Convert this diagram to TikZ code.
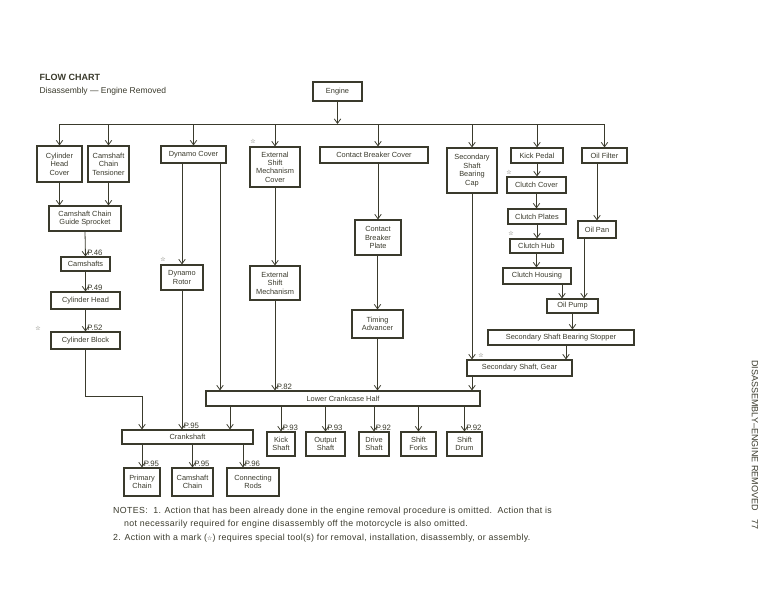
\documentclass[tikz,border=0pt]{standalone}
\usepackage{fontspec}
\setmainfont{Liberation Sans}
\newfontfamily\djv{DejaVu Sans}
\newfontfamily\notefont[LetterSpace=4]{Liberation Sans}
\usetikzlibrary{arrows.meta}
\definecolor{ink}{HTML}{3A3A2C}
\begin{document}
\begin{tikzpicture}[x=1pt,y=-1pt,
  box/.style={draw=ink,line width=1.1pt,inner sep=0pt,align=center,text=ink,font=\fontsize{7.4}{8.4}\selectfont},
  arr/.style={draw=ink,line width=0.8pt,-{Straight Barb[length=4.5pt,width=6.5pt]}},
  ln/.style={draw=ink,line width=0.8pt},
  pg/.style={anchor=south west,xshift=1pt,inner sep=0.5pt,text=ink,font=\fontsize{7.8}{8}\selectfont},
  star/.style={text=ink,font=\djv\fontsize{6}{6}\selectfont,inner sep=0pt}]
\useasboundingbox (0,0) rectangle (768,594);
\newcommand\bx[6]{\node[box,minimum width=#4pt,minimum height=#5pt] (#1) at (#2,#3) {#6};}
\node[anchor=west,text=ink,font=\bfseries\fontsize{9}{10}\selectfont] (t1) at (36,77) {FLOW CHART};
\node[anchor=west,text=ink,font=\fontsize{8.5}{10}\selectfont] (t2) at (36,91) {Disassembly — Engine Removed};
\bx{eng}{337.5}{91.5}{49}{19}{Engine}
\bx{chc}{59.5}{164}{45}{36}{Cylinder\\Head\\Cover}
\bx{cct}{108.5}{164}{41}{36}{Camshaft\\Chain\\Tensioner}
\bx{dyc}{193.5}{154.5}{65}{17}{Dynamo Cover}
\bx{esc}{275}{167}{50}{40}{External\\Shift\\Mechanism\\Cover}
\bx{cbc}{374}{155}{108}{16}{Contact Breaker Cover}
\bx{sbc}{472}{170.5}{50}{45}{Secondary\\Shaft\\Bearing\\Cap}
\bx{kp}{537}{155.5}{52}{15}{Kick Pedal}
\bx{of}{604.5}{155.5}{45}{15}{Oil Filter}
\bx{cgs}{85}{218.5}{72}{25}{Camshaft Chain\\Guide Sprocket}
\bx{cam}{85.5}{264}{49}{14}{Camshafts}
\bx{cyh}{85.5}{300.5}{69}{17}{Cylinder Head}
\bx{cyb}{85.5}{340.5}{69}{17}{Cylinder Block}
\bx{dyr}{182}{277.5}{42}{25}{Dynamo\\Rotor}
\bx{esm}{275}{283}{50}{34}{External\\Shift\\Mechanism}
\bx{cbp}{378}{237.5}{46}{35}{Contact\\Breaker\\Plate}
\bx{ta}{377.5}{324}{51}{28}{Timing\\Advancer}
\bx{cc}{536.5}{185}{59}{16}{Clutch Cover}
\bx{cp}{537}{216.5}{58}{15}{Clutch Plates}
\bx{ch}{536.5}{246}{53}{14}{Clutch Hub}
\bx{chs}{537}{276}{68}{16}{Clutch Housing}
\bx{opn}{597}{229.5}{38}{17}{Oil Pan}
\bx{opm}{572.5}{306}{51}{14}{Oil Pump}
\bx{sbs}{561}{337.5}{146}{15}{Secondary Shaft Bearing Stopper}
\bx{ssg}{519.5}{368}{105}{16}{Secondary Shaft, Gear}
\bx{lch}{343}{398.5}{274}{15}{Lower Crankcase Half}
\bx{crk}{187.5}{437}{131}{14}{Crankshaft}
\bx{ks}{281}{444}{28}{24}{Kick\\Shaft}
\bx{os}{325.5}{444}{39}{24}{Output\\Shaft}
\bx{ds}{374}{444}{30}{24}{Drive\\Shaft}
\bx{sf}{418.5}{444}{35}{24}{Shift\\Forks}
\bx{sd}{464.5}{444}{35}{24}{Shift\\Drum}
\bx{pc}{142}{482}{36}{28}{Primary\\Chain}
\bx{cch}{192.5}{482}{41}{28}{Camshaft\\Chain}
\bx{cr}{253}{482}{52}{28}{Connecting\\Rods}
% bus
\coordinate (bL) at (59.5,124);
\coordinate (bR) at (604.5,124);
\draw[ln] (bL) -- (bR);
\draw[arr] (eng.south) -- (eng.south |- bL);
\foreach \n in {chc,cct,dyc,esc,kp,of,sbc}{\draw[arr] (\n.north |- bL) -- (\n.north);}
\draw[arr] ([xshift=4pt]cbc.north |- bL) -- ([xshift=4pt]cbc.north);
% left column
\draw[arr] (chc.south) -- (chc.south |- cgs.north);
\draw[arr] (cct.south) -- (cct.south |- cgs.north);
\draw[arr] (cgs.south) -- (cam.north) node[pg]{P.46};
\draw[arr] (cam.south) -- (cyh.north) node[pg]{P.49};
\draw[arr] (cyh.south) -- (cyb.north) node[pg]{P.52};
\draw[arr] (cyb.south) -- ++(0,47) -| ([xshift=-45.5pt]crk.north);
% dynamo
\draw[arr] (dyr.north |- dyc.south) -- (dyr.north);
\draw[arr] (dyr.south) -- (dyr.south |- crk.north) node[pg]{P.95};
\draw[arr] ([xshift=26.5pt]dyc.south) -- ([xshift=26.5pt]dyc.south |- lch.north);
% external shift
\draw[arr] (esc.south) -- (esm.north);
\draw[arr] (esm.south) -- (esm.south |- lch.north) node[pg]{P.82};
% contact breaker
\draw[arr] (cbp.north |- cbc.south) -- (cbp.north);
\draw[arr] ([xshift=-0.5pt]cbp.south) -- (ta.north);
\draw[arr] (ta.south) -- (ta.south |- lch.north);
% secondary shaft
\draw[arr] (sbc.south) -- (sbc.south |- ssg.north);
\draw[arr] (sbc.south |- ssg.south) -- (sbc.south |- lch.north);
% clutch
\draw[arr] (kp.south) -- (kp.south |- cc.north);
\draw[arr] (cc.south) -- (cc.south |- cp.north);
\draw[arr] (cp.south) -- (cp.south |- ch.north);
\draw[arr] (ch.south) -- (ch.south |- chs.north);
\draw[arr] ([xshift=-10.5pt]opm.north |- chs.south) -- ([xshift=-10.5pt]opm.north);
\draw[arr] (opn.north |- of.south) -- (opn.north);
\draw[arr] ([xshift=-13pt]opn.south) -- ([xshift=-13pt]opn.south |- opm.north);
\draw[arr] (opm.south) -- (opm.south |- sbs.north);
\draw[arr] ([xshift=5pt]sbs.south) -- ([xshift=5pt]sbs.south |- ssg.north);
% lower crankcase outputs
\draw[arr] ([xshift=42.5pt]crk.north |- lch.south) -- ([xshift=42.5pt]crk.north);
\draw[arr] (ks.north |- lch.south) -- (ks.north) node[pg]{P.93};
\draw[arr] (os.north |- lch.south) -- (os.north) node[pg]{P.93};
\draw[arr] (ds.north |- lch.south) -- (ds.north) node[pg]{P.92};
\draw[arr] (sf.north |- lch.south) -- (sf.north);
\draw[arr] (sd.north |- lch.south) -- (sd.north) node[pg]{P.92};
% crankshaft outputs
\draw[arr] (pc.north |- crk.south) -- (pc.north) node[pg]{P.95};
\draw[arr] (cch.north |- crk.south) -- (cch.north) node[pg]{P.95};
\draw[arr] ([xshift=-10pt]cr.north |- crk.south) -- ([xshift=-10pt]cr.north) node[pg]{P.96};
% stars
\node[star] (s1) at (253,141) {☆};
\node[star] (s2) at (38,328) {☆};
\node[star] (s3) at (163,259) {☆};
\node[star] (s4) at (509,172) {☆};
\node[star] (s5) at (511,233) {☆};
\node[star] (s6) at (481,355) {☆};
% notes
\begin{scope}[every node/.style={anchor=west,text=ink,inner sep=0pt,font=\notefont\fontsize{8.8}{10}\selectfont}]
\node (n1) at (113,511) {NOTES:\ \ 1. Action that has been already done in the engine removal procedure is omitted.\ \ Action that is};
\node (n2) at (124,524.5) {not necessarily required for engine disassembly off the motorcycle is also omitted.};
\node (n3) at (113,538) {2. Action with a mark ({\djv\fontsize{6}{6}\selectfont ☆}) requires special tool(s) for removal, installation, disassembly, or assembly.};
\end{scope}
\node[rotate=-90,text=ink,font=\fontsize{9}{10}\selectfont] (side) at (755,445) {DISASSEMBLY–ENGINE REMOVED\quad 77};
\end{tikzpicture}
\end{document}
